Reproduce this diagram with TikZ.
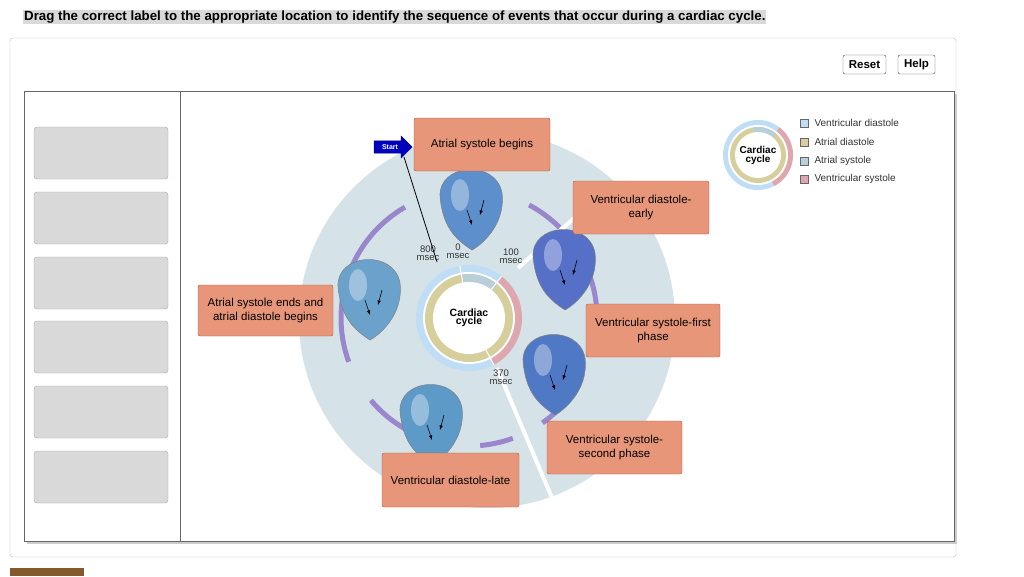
\documentclass[tikz,border=0pt]{standalone}
\usepackage{fontspec}
\setmainfont{Liberation Sans}
\usetikzlibrary{shapes.arrows}
\definecolor{lbl}{HTML}{E8967A}
\definecolor{lbd}{HTML}{B5533A}
\definecolor{bg}{HTML}{D5E3E8}
\definecolor{vd}{HTML}{BFDDF5}
\definecolor{ad}{HTML}{D6CF9C}
\definecolor{as}{HTML}{B9CFD8}
\definecolor{vs}{HTML}{E0A6AE}
\definecolor{pur}{HTML}{9A86CC}
\definecolor{hA}{HTML}{5C8FCB}
\definecolor{hB}{HTML}{5670C8}
\definecolor{hC}{HTML}{4F79C4}
\definecolor{hD}{HTML}{5E9AC8}
\definecolor{hE}{HTML}{6AA2CC}
\tikzset{
 lab/.style={draw=lbd,fill=lbl,rounded corners=2pt,minimum width=136pt,minimum height=53pt,align=center,font=\fontsize{11.5}{14}\selectfont,inner sep=2pt},
 slot/.style={draw=gray!70,fill=black!15,rounded corners=3pt,minimum width=134pt,minimum height=52pt},
 btn/.style={draw=black!70,rounded corners=2pt,font=\bfseries\fontsize{11.5}{12}\selectfont,inner sep=3pt},
 msec/.style={font=\fontsize{9.5}{8}\selectfont,align=center,inner sep=0pt,text=black!80},
 leg/.style={font=\fontsize{10}{11}\selectfont,anchor=west,text=black!80},
}
\begin{document}
\begin{tikzpicture}[x=1pt,y=-1pt]
\useasboundingbox (0,0) rectangle (1024,576);
\fill[white] (0,0) rectangle (1024,576);
\node[fill=black!15,anchor=west,inner sep=1pt,font=\bfseries\fontsize{13.3}{15}\selectfont] (title) at (23,17) {Drag the correct label to the appropriate location to identify the sequence of events that occur during a cardiac cycle.};
\draw[black!25,rounded corners=3pt] (10,38) rectangle (956,557);
\node[btn,minimum width=43pt,minimum height=19pt] (reset) at (864.5,64.5) {Reset};
\node[btn,minimum width=37pt,minimum height=19pt] (help) at (916.5,64.5) {Help};
\fill[black!20] (27,94) rectangle (957,544);
\draw[black!60,fill=white] (24,91) rectangle (954,541);
\draw[black!60] (180,91) -- (180,541);
\foreach \y/\n in {153/s1,218/s2,283/s3,347/s4,412/s5,477/s6}
  \node[slot] (\n) at (101,\y) {};
% background disk
\fill[bg] (487,320) circle (188);
\draw[white,line width=4pt] (518,268) -- (662,140);
\draw[white,line width=4pt] (497,368) -- (552,498);
% purple arcs (angles in y-down frame)
\foreach \a/\b in {-62/-45,-22/15,30/55,70/85,110/140,160/200,-160/-120}
  \draw[pur,line width=5pt] (469,318) ++(\a:128) arc[start angle=\a,end angle=\b,radius=128];
% hearts
\foreach \x/\y/\c in {472/205/hA, 565/265/hB, 555/370/hC, 432/420/hD, 370/295/hE}{
  \fill[\c,draw=black!50,line width=0.5pt] (\x-32,\y-8) .. controls (\x-34,\y-42) and (\x+24,\y-46) .. (\x+30,\y-12) .. controls (\x+34,\y+22) and (\x+6,\y+42) .. (\x,\y+45) .. controls (\x-17,\y+34) and (\x-29,\y+22) .. cycle;
  \fill[white,opacity=0.35] (\x-12,\y-10) ellipse (9 and 16);
  \draw[black,-latex,line width=0.6pt] (\x-5,\y+5) -- (\x,\y+20);
  \draw[black,-latex,line width=0.6pt] (\x+12,\y-5) -- (\x+8,\y+10);
}
% central ring
\coordinate (cc) at (469,318);
\fill[vd] (cc) circle (53);
\fill[vs] (cc) -- ++(-52:53) arc[start angle=-52,end angle=62,radius=53] -- cycle;
\fill[white] (cc) circle (46);
\fill[ad] (cc) circle (44);
\fill[as] (cc) -- ++(-100:44) arc[start angle=-100,end angle=-50,radius=44] -- cycle;
\fill[white] (cc) circle (36);
\draw[white,line width=1pt] (cc) ++(-100:36) -- ++(-100:17) (cc) ++(-52:36) -- ++(-52:17) (cc) ++(62:36) -- ++(62:17);
\node[font=\bfseries\fontsize{10.5}{8.5}\selectfont,align=center] (cyc) at (cc) {Cardiac\\cycle};
\node[msec] (m800) at (428,253) {800\\msec};
\node[msec] (m0) at (458,251) {0\\msec};
\node[msec] (m100) at (511,256) {100\\msec};
\node[msec] (m370) at (501,377) {370\\msec};
% start
\node[single arrow,fill=blue!75!black,draw=blue!50!black,minimum height=38pt,minimum width=22pt,single arrow head extend=3pt,inner sep=1pt,font=\bfseries\fontsize{7}{7}\selectfont,text=white] (start) at (390,147) {Start};
\coordinate (tick) at (437,262);
\draw[black,line width=0.8pt] (404,157) -- (tick);
% labels
\node[lab] (l1) at (482,144.5) {Atrial systole begins};
\node[lab] (l2) at (641,207.5) {Ventricular diastole-\\early};
\node[lab,minimum width=135pt,minimum height=51pt] (l3) at (265.5,310.5) {Atrial systole ends and\\atrial diastole begins};
\node[lab,minimum width=134pt] (l4) at (653,330.5) {Ventricular systole-first\\phase};
\node[lab,minimum width=135pt] (l5) at (614.5,447.5) {Ventricular systole-\\second phase};
\node[lab,minimum width=137pt,minimum height=54pt] (l6) at (450.5,480) {Ventricular diastole-late};
% legend
\coordinate (lc) at (758,155);
\fill[vd] (lc) circle (35);
\fill[vs] (lc) -- ++(-52:35) arc[start angle=-52,end angle=62,radius=35] -- cycle;
\fill[white] (lc) circle (30);
\fill[ad] (lc) circle (28);
\fill[as] (lc) -- ++(-100:28) arc[start angle=-100,end angle=-50,radius=28] -- cycle;
\fill[white] (lc) circle (23);
\node[font=\bfseries\fontsize{10}{9}\selectfont,align=center] (lcy) at (lc) {Cardiac\\cycle};
\foreach \y/\c/\t in {123/vd/Ventricular diastole,142/ad/Atrial diastole,161/as/Atrial systole,179/vs/Ventricular systole}{
  \draw[black!60,fill=\c] (800,\y-4) rectangle (808,\y+4);
  \node[leg] at (811,\y) {\t};
}
\fill[brown!70!black] (10,568) rectangle (84,576);
\end{tikzpicture}
\end{document}
